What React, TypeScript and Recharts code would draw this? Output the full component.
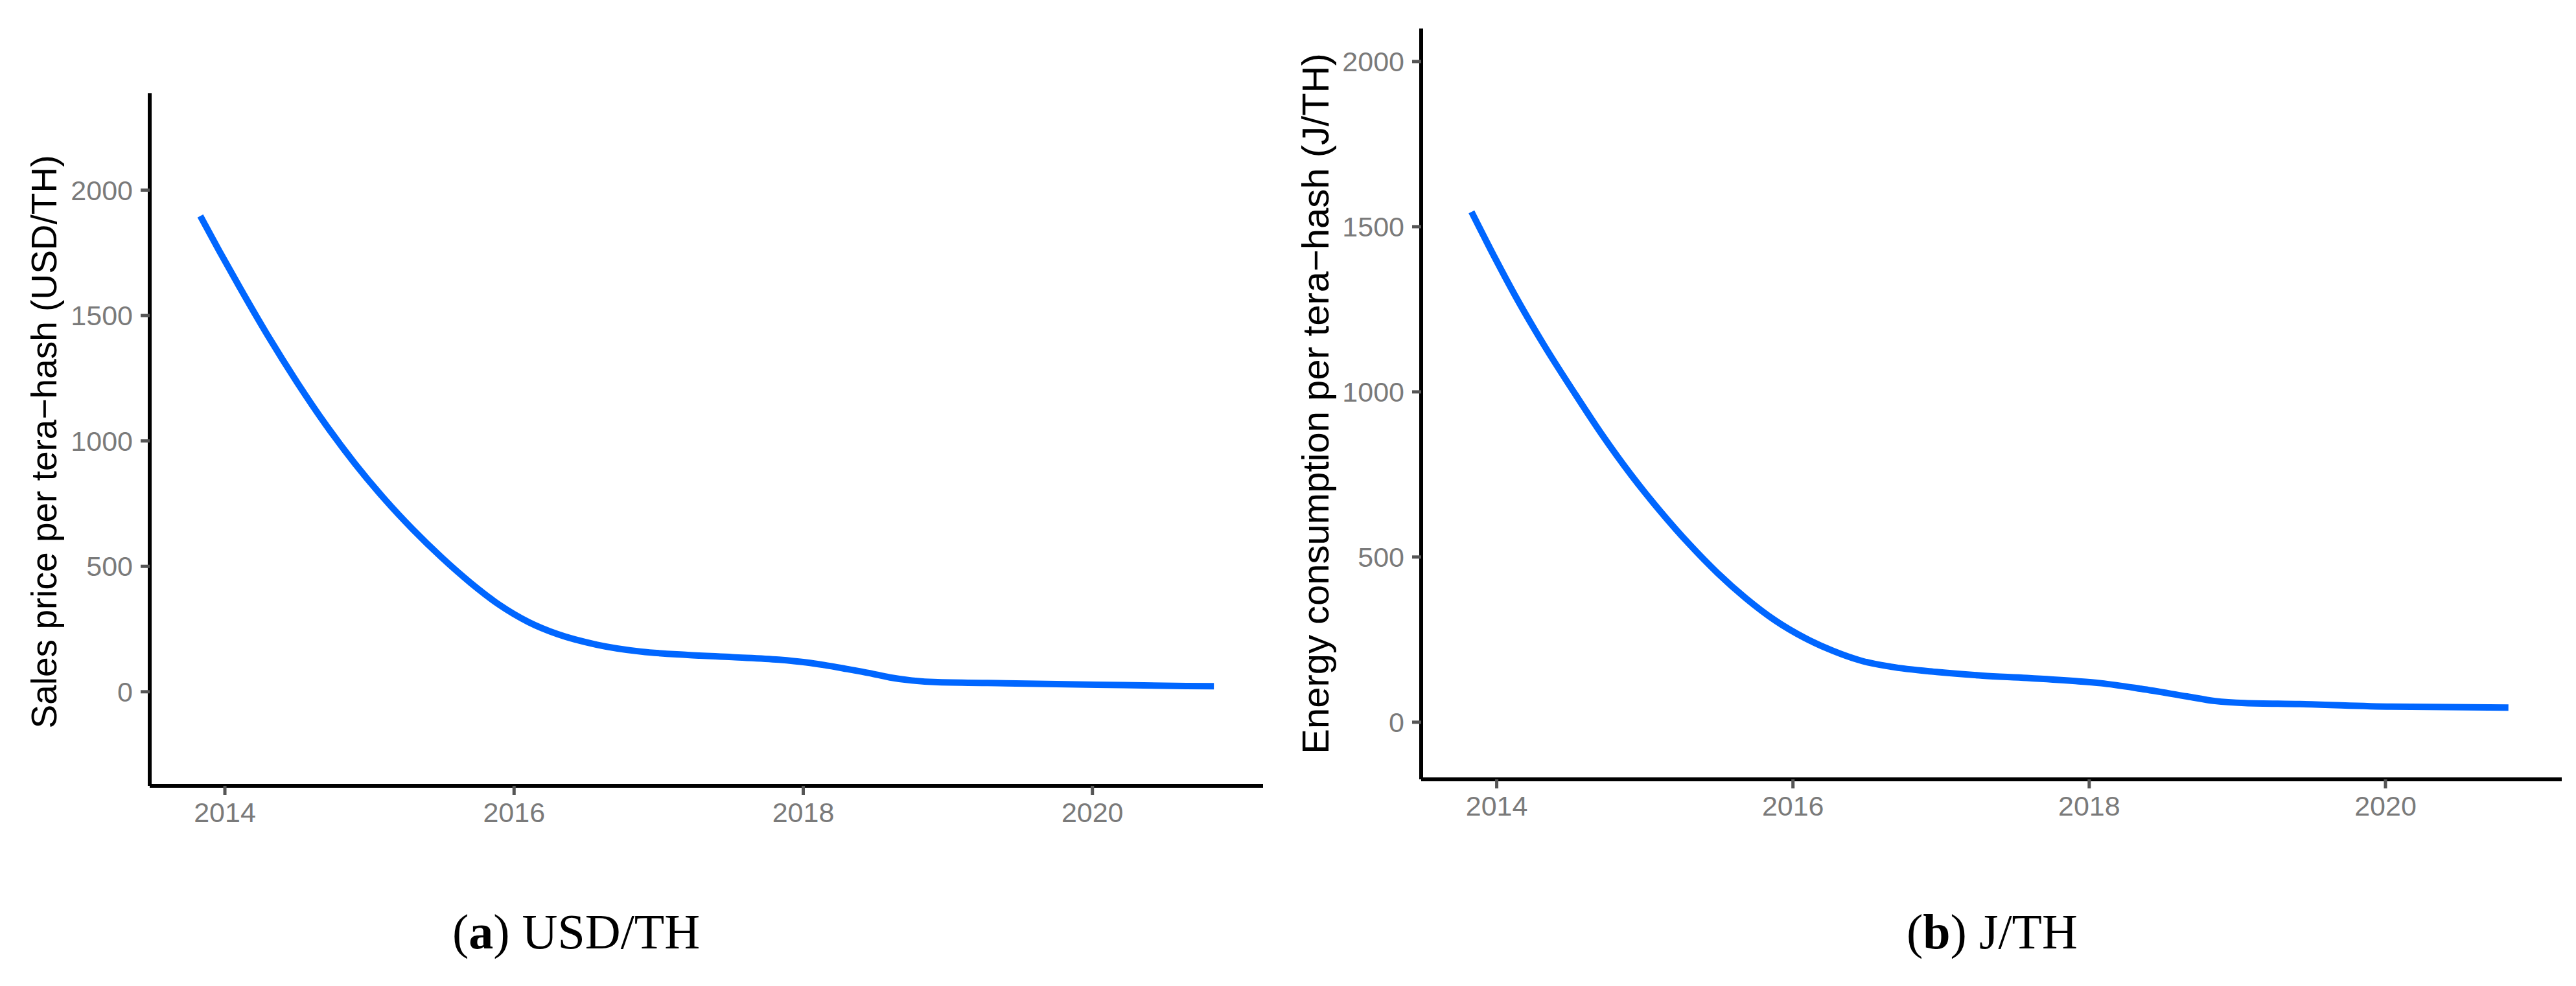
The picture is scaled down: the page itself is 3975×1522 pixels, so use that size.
import React from 'react';
import { LineChart, Line, XAxis, YAxis } from 'recharts';

// Panel (a): sales price per tera-hash, USD/TH
const yearsA = [
  2013.83, 2013.96, 2014.1, 2014.3, 2014.5, 2014.7, 2014.9, 2015.1, 2015.3, 2015.5,
  2015.7, 2015.9, 2016.1, 2016.3, 2016.57, 2016.88, 2017.2, 2017.51, 2017.83, 2018.02,
  2018.14, 2018.3, 2018.46, 2018.6, 2018.75, 2018.93, 2019.4, 2020.03, 2020.65, 2020.84,
];
const priceA = [
  1897, 1759, 1615, 1417, 1233, 1063, 909, 771, 647, 535,
  434, 346, 278, 230, 188, 160, 147, 138, 128, 117,
  107, 91, 74, 57, 45, 38, 34, 28, 23, 22,
];

// Panel (b): energy consumption per tera-hash, J/TH
const yearsB = [
  2013.83, 2013.99, 2014.12, 2014.32, 2014.52, 2014.71, 2014.91, 2015.1, 2015.3, 2015.49,
  2015.68, 2015.88, 2016.08, 2016.27, 2016.47, 2016.66, 2016.97, 2017.28, 2017.58, 2017.89,
  2018.08, 2018.35, 2018.66, 2018.85, 2019.05, 2019.42, 2020.04, 2020.83,
];
const energyB = [
  1545, 1404, 1295, 1141, 1000, 871, 747, 641, 539, 452,
  376, 308, 255, 216, 185, 168, 152, 141, 134, 125,
  118, 101, 78, 64, 58, 55, 47, 44,
];

const xTicks = [2014, 2016, 2018, 2020];
const yTicks = [0, 500, 1000, 1500, 2000];

const dataA = yearsA.map((year, i) => ({ year, value: priceA[i] }));
const dataB = yearsB.map((year, i) => ({ year, value: energyB[i] }));

const LINE = '#0066ff';
const sans = '"Liberation Sans", Arial, sans-serif';
const serif = '"Liberation Serif", "Times New Roman", serif';
const tickStyle = { fill: '#7a7a7a', fontSize: 43, fontFamily: sans };

interface PanelProps {
  data: { year: number; value: number }[];
  width: number;
  xDomain: [number, number];
  yDomain: [number, number];
  margin: { top: number; right: number; bottom: number; left: number };
}

const Panel: React.FC<PanelProps> = ({ data, width, xDomain, yDomain, margin }) => (
  <LineChart width={width} height={1522} data={data} margin={margin}>
    <XAxis
      dataKey="year"
      type="number"
      domain={xDomain}
      ticks={xTicks}
      allowDataOverflow
      height={100}
      axisLine={{ stroke: '#000', strokeWidth: 6 }}
      tickLine={{ stroke: '#555', strokeWidth: 5 }}
      tickSize={14}
      tickMargin={11}
      tick={tickStyle}
    />
    <YAxis
      type="number"
      domain={yDomain}
      ticks={yTicks}
      allowDataOverflow
      width={130}
      axisLine={{ stroke: '#000', strokeWidth: 6 }}
      tickLine={{ stroke: '#555', strokeWidth: 5 }}
      tickSize={14}
      tickMargin={12}
      tick={tickStyle}
    />
    <Line
      type="monotone"
      dataKey="value"
      stroke={LINE}
      strokeWidth={10}
      dot={false}
      isAnimationActive={false}
    />
  </LineChart>
);

const App: React.FC = () => {
  return (
    <div style={{ position: 'absolute', left: 0, top: 0, width: 3975, height: 1522, background: '#fff', overflow: 'hidden' }}>
      <div style={{ position: 'absolute', left: 0, top: 0 }}>
        <Panel
          data={dataA}
          width={2000}
          xDomain={[2013.48, 2021.18]}
          yDomain={[-375, 2386]}
          margin={{ top: 144, right: 51, bottom: 209, left: 101 }}
        />
      </div>
      <div style={{ position: 'absolute', left: 2000, top: 0 }}>
        <Panel
          data={dataB}
          width={1975}
          xDomain={[2013.49, 2021.19]}
          yDomain={[-173, 2100]}
          margin={{ top: 44, right: 22, bottom: 219, left: 63 }}
        />
      </div>

      {/* y-axis titles */}
      <div style={{
        position: 'absolute', left: 68, top: 682, transform: 'translate(-50%, -50%) rotate(-90deg)',
        whiteSpace: 'nowrap', fontFamily: sans, fontSize: 55, color: '#000', lineHeight: 1,
      }}>
        Sales price per tera−hash (USD/TH)
      </div>
      <div style={{
        position: 'absolute', left: 2030, top: 623, transform: 'translate(-50%, -50%) rotate(-90deg)',
        whiteSpace: 'nowrap', fontFamily: sans, fontSize: 58, color: '#000', lineHeight: 1,
      }}>
        Energy consumption per tera−hash (J/TH)
      </div>

      {/* sub-figure captions */}
      <div style={{ position: 'absolute', left: 698, top: 1400, fontFamily: serif, fontSize: 76, color: '#000', whiteSpace: 'nowrap', lineHeight: 1 }}>
        (<b>a</b>) USD/TH
      </div>
      <div style={{ position: 'absolute', left: 2942, top: 1400, fontFamily: serif, fontSize: 76, color: '#000', whiteSpace: 'nowrap', lineHeight: 1 }}>
        (<b>b</b>) J/TH
      </div>
    </div>
  );
};

export default App;
